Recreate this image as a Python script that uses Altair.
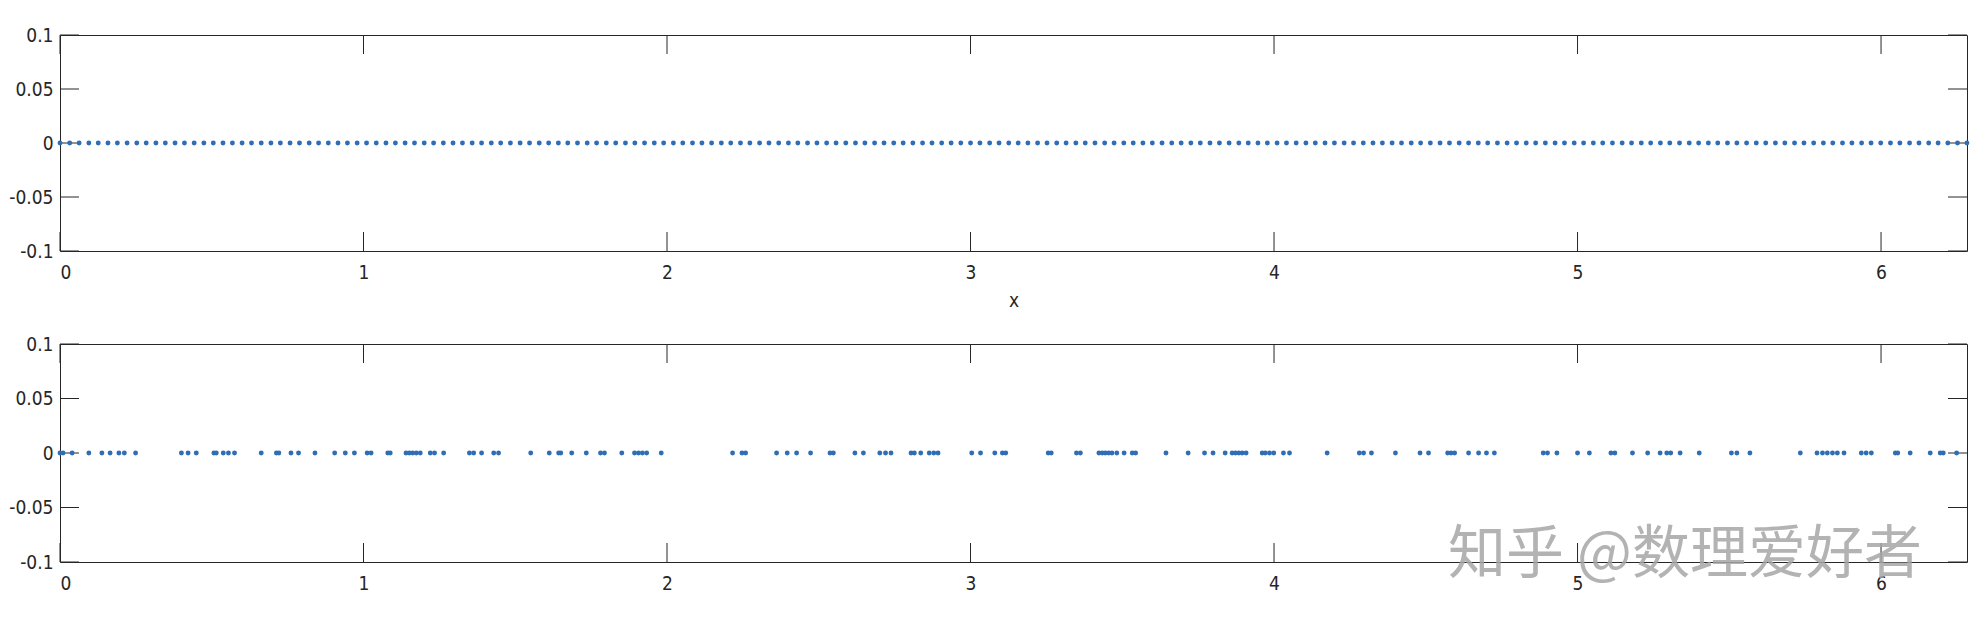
import altair as alt
import pandas as pd

# ---------------- data ----------------
x_max = 6.2832
x_tick_values = [0, 1, 2, 3, 4, 5, 6]
y_tick_values = [-0.1, -0.05, 0, 0.05, 0.1]
x_title = "x"
watermark = "知乎 @数理爱好者"

top_x = [
    0.000, 0.032, 0.063, 0.095, 0.126, 0.158, 0.189, 0.221, 0.253, 0.284,
    0.316, 0.347, 0.379, 0.410, 0.442, 0.474, 0.505, 0.537, 0.568, 0.600,
    0.631, 0.663, 0.695, 0.726, 0.758, 0.789, 0.821, 0.852, 0.884, 0.916,
    0.947, 0.979, 1.010, 1.042, 1.074, 1.105, 1.137, 1.168, 1.200, 1.231,
    1.263, 1.295, 1.326, 1.358, 1.389, 1.421, 1.452, 1.484, 1.516, 1.547,
    1.579, 1.610, 1.642, 1.673, 1.705, 1.737, 1.768, 1.800, 1.831, 1.863,
    1.894, 1.926, 1.958, 1.989, 2.021, 2.052, 2.084, 2.115, 2.147, 2.179,
    2.210, 2.242, 2.273, 2.305, 2.336, 2.368, 2.400, 2.431, 2.463, 2.494,
    2.526, 2.557, 2.589, 2.621, 2.652, 2.684, 2.715, 2.747, 2.778, 2.810,
    2.842, 2.873, 2.905, 2.936, 2.968, 3.000, 3.031, 3.063, 3.094, 3.126,
    3.157, 3.189, 3.221, 3.252, 3.284, 3.315, 3.347, 3.378, 3.410, 3.442,
    3.473, 3.505, 3.536, 3.568, 3.599, 3.631, 3.663, 3.694, 3.726, 3.757,
    3.789, 3.820, 3.852, 3.884, 3.915, 3.947, 3.978, 4.010, 4.041, 4.073,
    4.105, 4.136, 4.168, 4.199, 4.231, 4.262, 4.294, 4.326, 4.357, 4.389,
    4.420, 4.452, 4.483, 4.515, 4.547, 4.578, 4.610, 4.641, 4.673, 4.704,
    4.736, 4.768, 4.799, 4.831, 4.862, 4.894, 4.926, 4.957, 4.989, 5.020,
    5.052, 5.083, 5.115, 5.147, 5.178, 5.210, 5.241, 5.273, 5.304, 5.336,
    5.368, 5.399, 5.431, 5.462, 5.494, 5.525, 5.557, 5.589, 5.620, 5.652,
    5.683, 5.715, 5.746, 5.778, 5.810, 5.841, 5.873, 5.904, 5.936, 5.967,
    5.999, 6.031, 6.062, 6.094, 6.125, 6.157, 6.188, 6.220, 6.252, 6.283,
]

bottom_x = [
    0.000, 0.010, 0.040, 0.095, 0.138, 0.165, 0.194, 0.212, 0.249, 0.400,
    0.422, 0.449, 0.507, 0.515, 0.538, 0.555, 0.575, 0.663, 0.713, 0.721,
    0.761, 0.786, 0.840, 0.905, 0.940, 0.970, 1.012, 1.025, 1.080, 1.088,
    1.140, 1.151, 1.162, 1.174, 1.187, 1.220, 1.234, 1.264, 1.349, 1.363,
    1.389, 1.429, 1.445, 1.551, 1.612, 1.643, 1.650, 1.686, 1.734, 1.781,
    1.794, 1.851, 1.893, 1.906, 1.919, 1.933, 1.981, 2.216, 2.247, 2.259,
    2.361, 2.396, 2.427, 2.473, 2.537, 2.548, 2.619, 2.647, 2.701, 2.720,
    2.738, 2.804, 2.815, 2.836, 2.864, 2.879, 2.893, 3.004, 3.033, 3.080,
    3.105, 3.116, 3.256, 3.266, 3.349, 3.362, 3.423, 3.434, 3.444, 3.455,
    3.466, 3.482, 3.506, 3.533, 3.544, 3.644, 3.717, 3.771, 3.799, 3.839,
    3.862, 3.873, 3.884, 3.895, 3.908, 3.961, 3.971, 3.985, 3.999, 4.031,
    4.051, 4.175, 4.281, 4.295, 4.321, 4.400, 4.481, 4.509, 4.572, 4.583,
    4.595, 4.641, 4.674, 4.700, 4.726, 4.887, 4.901, 4.932, 5.000, 5.039,
    5.110, 5.123, 5.181, 5.231, 5.272, 5.294, 5.307, 5.338, 5.401, 5.507,
    5.525, 5.568, 5.734, 5.789, 5.807, 5.823, 5.840, 5.856, 5.878, 5.935,
    5.951, 5.968, 6.047, 6.055, 6.096, 6.162, 6.195, 6.205, 6.249,
]

# ---------------- styling ----------------
W, H1, H2 = 1907, 216, 218
TICK = 19
AX = "#262626"
DOT = "#2F6EB5"
FONT = "Liberation Sans Narrow, DejaVu Sans Condensed, Liberation Sans, sans-serif"

xscale = alt.Scale(domain=[0, x_max], nice=False, zero=False)
yscale = alt.Scale(domain=[-0.1, 0.1], nice=False, zero=False)

ylabel_expr = "replace(format(datum.value, '~g'), '\u2212', '-')"


def panel(xs, H, title):
    pts = pd.DataFrame({"v": xs, "w": [0.0] * len(xs)})
    xt = pd.DataFrame({"v": x_tick_values})
    yt = pd.DataFrame({"w": y_tick_values})

    xaxis = alt.Axis(values=x_tick_values, format="d", title=title if title else None)
    yaxis = alt.Axis(values=y_tick_values, labelExpr=ylabel_expr, title=None)

    dots = alt.Chart(pts).mark_circle(size=24, color=DOT, opacity=1).encode(
        x=alt.X("v:Q", scale=xscale, axis=xaxis),
        y=alt.Y("w:Q", scale=yscale, axis=yaxis),
    )
    xt_bot = alt.Chart(xt).mark_rule(color=AX, strokeWidth=1).encode(
        x=alt.X("v:Q", scale=xscale, axis=xaxis),
        y=alt.value(H), y2=alt.value(H - TICK),
    )
    xt_top = alt.Chart(xt).mark_rule(color=AX, strokeWidth=1).encode(
        x=alt.X("v:Q", scale=xscale, axis=xaxis),
        y=alt.value(0), y2=alt.value(TICK),
    )
    yt_left = alt.Chart(yt).mark_rule(color=AX, strokeWidth=1).encode(
        y=alt.Y("w:Q", scale=yscale, axis=yaxis),
        x=alt.value(0), x2=alt.value(TICK),
    )
    yt_right = alt.Chart(yt).mark_rule(color=AX, strokeWidth=1).encode(
        y=alt.Y("w:Q", scale=yscale, axis=yaxis),
        x=alt.value(W - TICK), x2=alt.value(W),
    )
    return [xt_bot, xt_top, yt_left, yt_right, dots]


top = alt.layer(*panel(top_x, H1, x_title)).properties(width=W, height=H1)

wm = alt.Chart(pd.DataFrame({"label": [watermark]})).mark_text(
    font="Noto Sans CJK SC", fontSize=58, color="#a6a6a6", opacity=0.85,
    align="center", baseline="middle",
).encode(text="label:N", x=alt.value(1625), y=alt.value(212))

bottom = alt.layer(*panel(bottom_x, H2, None), wm).properties(width=W, height=H2)

chart = alt.vconcat(top, bottom, spacing=93, bounds="flush").properties(
    padding={"left": 0, "top": 17, "right": 0, "bottom": 0}
).configure_view(
    stroke=AX, strokeWidth=1
).configure_axis(
    domain=False, grid=False, ticks=False, tickSize=0,
    labelFont=FONT, labelFontSize=19, labelColor=AX,
    titleFont=FONT, titleFontSize=19, titleColor=AX, titleFontWeight="normal",
).configure_axisX(
    labelPadding=12, titlePadding=9,
).configure_axisY(
    labelPadding=7,
)

chart.save("out.html", embed_options={"renderer": "svg", "actions": False})
